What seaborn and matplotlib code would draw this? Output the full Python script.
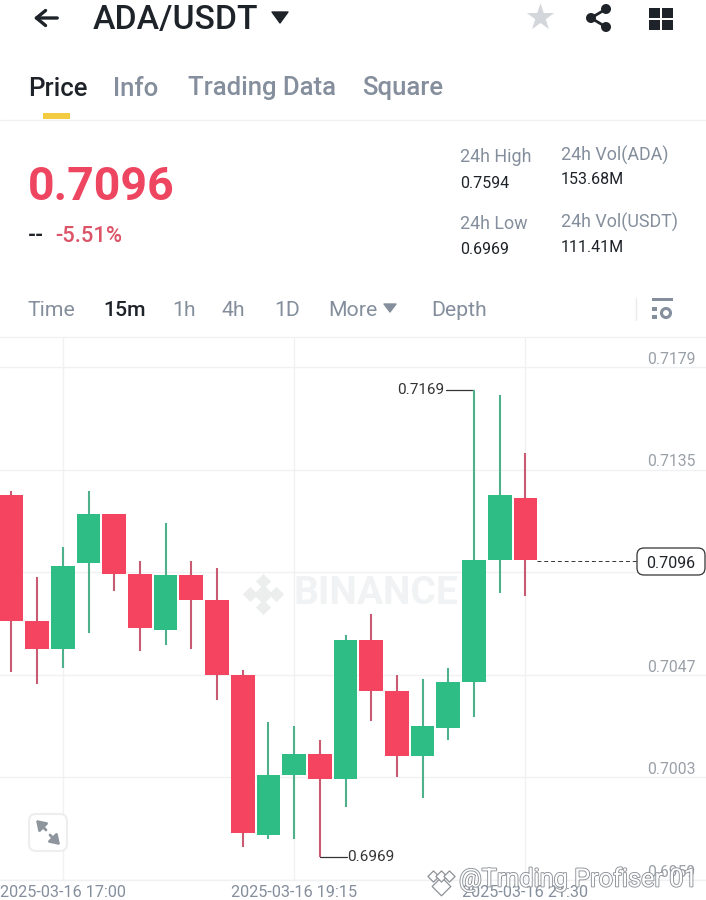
import matplotlib
matplotlib.use("Agg")
import matplotlib.pyplot as plt
import matplotlib.patheffects as pe
from matplotlib.patches import FancyBboxPatch, Polygon, Circle, Rectangle
import numpy as np
import pandas as pd
import seaborn as sns

# candles, oldest first
opens = [0.71241, 0.70701, 0.70581, 0.70950, 0.71160, 0.70902, 0.70662, 0.70898, 0.70791, 0.70469, 0.69783,
         0.70040, 0.70131, 0.70023, 0.70619, 0.70401, 0.70122, 0.70242, 0.70439, 0.70962, 0.71228]
closes = [0.70701, 0.70581, 0.70937, 0.71160, 0.70902, 0.70671, 0.70898, 0.70791, 0.70469, 0.69792, 0.70040,
          0.70131, 0.70023, 0.70619, 0.70401, 0.70122, 0.70251, 0.70439, 0.70962, 0.71241, 0.70962]
highs = [0.71258, 0.70890, 0.71018, 0.71258, 0.71160, 0.70958, 0.71121, 0.70958, 0.70928, 0.70491, 0.70268,
         0.70251, 0.70191, 0.70641, 0.70731, 0.70469, 0.70452, 0.70499, 0.71690, 0.71670, 0.71421]
lows = [0.70482, 0.70431, 0.70499, 0.70649, 0.70829, 0.70572, 0.70598, 0.70581, 0.70362, 0.69732, 0.69766,
        0.69766, 0.69690, 0.69903, 0.70272, 0.70032, 0.69942, 0.70191, 0.70289, 0.70821, 0.70808]

price_ticks = [0.7179, 0.7135, 0.7091, 0.7047, 0.7003, 0.6959]
price_labels = ["0.7179", "0.7135", None, "0.7047", "0.7003", "0.6959"]
time_ticks = [2, 11, 20]
time_labels = ["2025-03-16 17:00", "2025-03-16 19:15", "2025-03-16 21:30"]
last_price = 0.7096
top_price = 0.7169
bottom_price = 0.6969

RED = "#f5445f"
GREEN = "#2ebd85"
RED_WICK = "#c85a72"
GREEN_WICK = "#4fb08c"
DARK = "#1e2329"
GREY = "#848e9c"
TICK_GREY = "#9aa0a8"
LINE = "#f0f1f3"

sns.set_theme(style="white")
plt.rcParams["font.family"] = ["Roboto", "DejaVu Sans"]

W, H = 706, 900
fig = plt.figure(figsize=(W / 100, H / 100), dpi=100)

# pixel layers, one under the chart for the watermark and one above it for the app screen
ax_bg = fig.add_axes([0, 0, 1, 1], zorder=0)
ax_ui = fig.add_axes([0, 0, 1, 1], zorder=2)
for a in (ax_bg, ax_ui):
    a.set_xlim(0, W)
    a.set_ylim(H, 0)
    a.axis("off")
    a.patch.set_alpha(0)

ax = fig.add_axes([0, (H - 880) / H, 1, (880 - 337) / H], zorder=1)
ax.patch.set_alpha(0)

df = pd.DataFrame({"i": np.arange(len(opens)), "open": opens, "close": closes, "high": highs, "low": lows})
df["body"] = (df["close"] - df["open"]).abs()
df["base"] = df[["open", "close"]].min(axis=1)
df["up"] = df["close"] >= df["open"]

# wicks first so the bodies sit on top
for up, col in [(True, GREEN_WICK), (False, RED_WICK)]:
    sub = df[df["up"] == up]
    ax.vlines(sub["i"], sub["low"], sub["high"], color=col, lw=1.5, zorder=2)

for up, col in [(True, GREEN), (False, RED)]:
    sub = df[df["up"] == up]
    sns.barplot(data=sub, x="i", y="body", bottom=sub["base"].values, native_scale=True, color=col,
                saturation=1, width=0.92, errorbar=None, ax=ax, zorder=3, linewidth=0)

x0, step = 11.4, 25.7
ax.set_xlim((0 - x0) / step, (W - x0) / step)
ax.set_ylim(0.7179 - (880 - 367) * 0.0044 / 102.6, 0.7179 + (367 - 337) * 0.0044 / 102.6)
ax.set_xlabel("")
ax.set_ylabel("")
ax.set_yticks(price_ticks)
ax.set_yticklabels([])
ax.set_xticks(time_ticks)
ax.set_xticklabels(time_labels, fontsize=11.7, color=GREY)
ax.tick_params(axis="both", length=0)
ax.tick_params(axis="x", pad=3.5)
ax.grid(True, color=LINE, lw=1)
ax.set_axisbelow(True)
for side in ["left", "right"]:
    ax.spines[side].set_visible(False)
for side in ["top", "bottom"]:
    ax.spines[side].set_color(LINE)
    ax.spines[side].set_linewidth(1)

for p, lab in zip(price_ticks, price_labels):
    if lab:
        ax.annotate(lab, xy=(647 / W, p), xycoords=("axes fraction", "data"), xytext=(0, 5.5),
                    textcoords="offset points", fontsize=11.3, color=TICK_GREY, va="center", ha="left")

# high / low callouts
ax.plot([18, 18, 16.9], [highs[18], top_price, top_price], color="#333333", lw=0.9, zorder=1)
ax.annotate(f"{top_price:.4f}", xy=(16.85, top_price), fontsize=11, color="#333333", ha="right", va="center")
ax.plot([12, 12, 13.05], [lows[12], bottom_price, bottom_price], color="#333333", lw=0.9, zorder=4)
ax.annotate(f"{bottom_price:.4f}", xy=(13.05, bottom_price), fontsize=11, color="#333333", ha="left", va="center")
ax.plot([20.46, 24.33], [last_price, last_price], color="#333333", lw=0.7, ls=(0, (4, 3)), zorder=1)

# watermark behind candles
ax_bg.text(294, 593, "BINANCE", fontsize=28, fontweight="bold", color="#f1f2f3", va="center", ha="left")
ax_bg.scatter([263], [594], marker="D", s=100, color="#eceded", lw=0)
for dx, dy in [(-13, 0), (13, 0), (0, -13), (0, 13)]:
    ax_bg.scatter([263 + dx], [594 + dy], marker="D", s=60, color="#eceded", lw=0)

# top bar
ax_ui.annotate("", xy=(31, 18), xytext=(60, 18),
               arrowprops=dict(arrowstyle="->,head_width=0.45,head_length=0.55", color=DARK, lw=2.4))
ax_ui.text(93, 20, "ADA/USDT", fontsize=24.3, fontweight="medium", color=DARK, va="center")
ax_ui.add_patch(Polygon([[272, 12], [288, 12], [280, 23]], closed=True, fc=DARK, ec=DARK, lw=1, joinstyle="round"))
ax_ui.scatter([540], [17], marker="*", s=430, color="#d3d6da", lw=0)
ax_ui.plot([606, 591, 606], [9, 18, 27], color=DARK, lw=2)
for cx, cy in [(606, 9), (591, 18), (606, 27)]:
    ax_ui.add_patch(Circle((cx, cy), 5, fc=DARK, ec="none"))
for sx, sy in [(649, 8), (662, 8), (649, 20), (662, 20)]:
    ax_ui.add_patch(Rectangle((sx, sy), 11, 10, fc=DARK, ec="none"))

# tabs
for s, x, c, w in [("Price", 28, DARK, "medium"), ("Info", 113, GREY, "medium"),
                   ("Trading Data", 188, GREY, "medium"), ("Square", 362, GREY, "medium")]:
    ax_ui.text(x, 88.5, s, fontsize=18.5, color=c, fontweight=w, va="center")
ax_ui.add_patch(Rectangle((43, 113), 27, 5.5, fc="#f3cb40", ec="none"))
ax_ui.plot([0, W], [119.5, 119.5], color=LINE, lw=1)

# price block
ax_ui.text(28, 187, "0.7096", fontsize=33.5, fontweight="bold", color="#ee4560", va="center")
ax_ui.text(28, 236, "--", fontsize=15, fontweight="bold", color=DARK, va="center")
ax_ui.text(55, 237, "-5.51%", fontsize=15.8, fontweight="medium", color="#dc5468", va="center")

for s, x, y, c in [("24h High", 460, 157, GREY), ("0.7594", 460, 183, DARK), ("24h Low", 460, 224, GREY),
                   ("0.6969", 460, 249, DARK), ("24h Vol(ADA)", 561, 155, GREY), ("153.68M", 561, 180, DARK),
                   ("24h Vol(USDT)", 561, 222, GREY), ("111.41M", 561, 247, DARK)]:
    ax_ui.text(x, y, s, fontsize=12.9 if c == GREY else 11.5, color=c, va="center")

# interval row
for s, x, c, w in [("Time", 27, GREY, "normal"), ("15m", 103, DARK, "medium"), ("1h", 172, GREY, "normal"),
                   ("4h", 222, GREY, "normal"), ("1D", 274, GREY, "normal"), ("More", 328, GREY, "normal"),
                   ("Depth", 431, GREY, "normal")]:
    ax_ui.text(x, 311, s, fontsize=15.3, color=c, fontweight=w, va="center")
ax_ui.add_patch(Polygon([[384, 304], [396, 304], [390, 312]], closed=True, fc=GREY, ec=GREY, lw=1, joinstyle="round"))
ax_ui.plot([636, 636], [298, 320], color="#e8eaed", lw=1)
ax_ui.add_patch(Rectangle((652, 298), 21, 3, fc=GREY, ec="none"))
ax_ui.add_patch(Rectangle((652, 307), 5, 3.5, fc=GREY, ec="none"))
ax_ui.add_patch(Rectangle((652, 315), 5, 3.5, fc=GREY, ec="none"))
ax_ui.add_patch(Circle((666, 313), 4.5, fc="white", ec=GREY, lw=2.2))

# last price tag
ax_ui.add_patch(FancyBboxPatch((637, 548), 68, 27, boxstyle="round,pad=0,rounding_size=7", fc="white", ec="#333333", lw=0.9))
ax_ui.text(671, 563, f"{last_price:.4f}", fontsize=11.5, color=DARK, va="center", ha="center")

# expand button
ax_ui.add_patch(FancyBboxPatch((29, 814), 38, 37, boxstyle="round,pad=0,rounding_size=7", fc="white", ec="#eceef0", lw=1.5))
ax_ui.annotate("", xy=(36, 820), xytext=(46, 830),
               arrowprops=dict(arrowstyle="-|>,head_width=0.3,head_length=0.45", color="#8f959d", lw=2, shrinkA=0, shrinkB=0))
ax_ui.annotate("", xy=(60, 845), xytext=(50, 835),
               arrowprops=dict(arrowstyle="-|>,head_width=0.3,head_length=0.45", color="#8f959d", lw=2, shrinkA=0, shrinkB=0))

# repost watermark
stroke = [pe.withStroke(linewidth=1.3, foreground="#8d9197")]
ax_ui.text(459, 879, "@Trnding Profiser 01", fontsize=18.2, color="white", va="center", path_effects=stroke)
for cx, cy, s in [(441, 886, 90), (433, 876, 32), (441, 876, 32), (449, 876, 32)]:
    ax_ui.scatter([cx], [cy], marker="D", s=s, color="white", edgecolors="#8d9197", lw=0.9)

fig.savefig("out.png", dpi=100, facecolor="white")
